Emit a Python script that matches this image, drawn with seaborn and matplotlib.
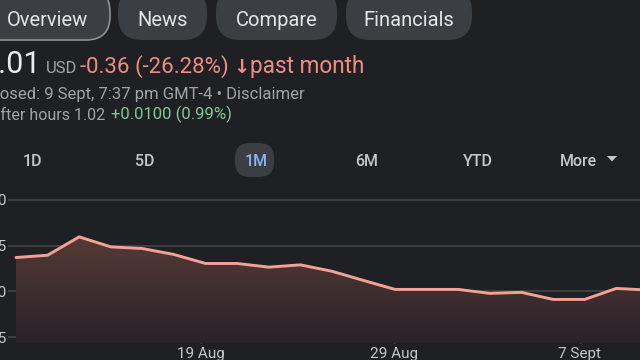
import numpy as np
import matplotlib.pyplot as plt
import seaborn as sns
from matplotlib.patches import FancyBboxPatch, Polygon
from matplotlib.colors import LinearSegmentedColormap

# closing price per session
session = list(range(21))
price = [1.370, 1.395, 1.595, 1.486, 1.468, 1.403, 1.305, 1.305, 1.265, 1.290,
         1.220, 1.120, 1.022, 1.022, 1.022, 0.979, 0.990, 0.913, 0.913, 1.033, 1.015]

y_ticks = [0.5, 1.0, 1.5, 2.0]
y_labels = ['0.5', '1.0', '1.5', '2.0']
x_tick_pos = [5.85, 11.95, 17.85]
x_tick_labels = ['19 Aug', '29 Aug', '7 Sept']

tabs = ['Overview', 'News', 'Compare', 'Financials']
ranges = ['1D', '5D', '1M', '6M', 'YTD', 'More']

BG = '#1f2023'
GRID = '#44474c'
LINE = '#f4a195'
RED = '#f28b82'
GREEN = '#81c995'
GREY = '#a0a4a9'
LIGHT = '#c4c7cb'
PILL = '#3b3e42'

sns.set_theme(style='dark', rc={'axes.facecolor': BG, 'figure.facecolor': BG})
plt.rcParams['font.family'] = ['Roboto', 'DejaVu Sans']

fig = plt.figure(figsize=(6.4, 3.6), dpi=100, facecolor=BG)

# page layer in pixel coordinates
ui = fig.add_axes([0, 0, 1, 1], zorder=0)
ui.set_xlim(0, 640)
ui.set_ylim(360, 0)
ui.axis('off')


def pill(x0, y0, x1, y1, r, fc, ec='none'):
    ui.add_patch(FancyBboxPatch((x0, y0), x1 - x0, y1 - y0,
                                boxstyle=f'round,pad=0,rounding_size={r}',
                                fc=fc, ec=ec, lw=1.2))


# tabs
tab_box = [(-30, 110), (118, 207), (216, 337), (346, 472)]
for i, (name, (x0, x1)) in enumerate(zip(tabs, tab_box)):
    pill(x0, -12, x1, 40, 24, PILL, ec='#8d9196' if i == 0 else 'none')
    ui.text((x0 + x1) / 2 if i else 48, 20.5, name, color='#e3e5e8',
            fontsize=14.5, ha='center', va='center')

# price header
ui.text(41, 73, '1.01', color='#e8eaed', fontsize=22, ha='right', va='baseline')
ui.text(46, 73, 'USD', color=GREY, fontsize=12, va='baseline')
ui.text(80, 73, '-0.36 (-26.28%)', color=RED, fontsize=16, va='baseline')
ui.text(233, 73, '↓', color=RED, fontsize=14, fontweight='bold', va='baseline',
        family=['DejaVu Sans'])
ui.text(250, 73, 'past month', color=RED, fontsize=16.3, va='baseline')
ui.text(-15, 99.5, 'Closed: 9 Sept, 7:37 pm GMT-4 • Disclaimer', color=GREY,
        fontsize=12, va='baseline')
ui.text(-10, 119.5, 'After hours 1.02', color=GREY, fontsize=11.5, va='baseline')
ui.text(111, 119.5, '+0.0100 (0.99%)', color=GREEN, fontsize=12, va='baseline')

# range selector
pill(235, 143, 274, 177, 15, PILL)
range_x = [33, 145, 256, 367, 478, 578]
for name, x in zip(ranges, range_x):
    ui.text(x, 161, name, color='#8ab4f8' if name == '1M' else LIGHT,
            fontsize=11.5, fontweight='medium', ha='center', va='center')
ui.add_patch(Polygon([(607, 156), (617, 156), (612, 161.5)], closed=True,
                     fc=LIGHT, ec='none'))

# chart
ax = fig.add_axes([8 / 640, 17 / 360, 632 / 640, 153 / 360], zorder=1)
ax.set_facecolor('none')
y_min, y_max = 0.438, 2.106

# gradient area under the line
verts = [(session[0], y_min)] + list(zip(session, price)) + [(session[-1], y_min)]
area = Polygon(verts, closed=True, fc='none', ec='none', transform=ax.transData)
ax.add_patch(area)
fade = LinearSegmentedColormap.from_list('fade', ['#29232a', '#553a35'])
grad = np.linspace(1, 0, 256).reshape(-1, 1)
im = ax.imshow(grad, extent=[session[0], session[-1], y_min, max(price)],
               aspect='auto', cmap=fade, origin='upper', zorder=1)
im.set_clip_path(area)

sns.lineplot(x=session, y=price, ax=ax, color=LINE, linewidth=2.1, zorder=3)

ax.set_xlim(-0.253, 19.75)
ax.set_ylim(y_min, y_max)
ax.set_yticks(y_ticks, y_labels)
ax.set_xticks(x_tick_pos, x_tick_labels)
ax.grid(axis='y', color=GRID, linewidth=1.1, zorder=0)
ax.grid(axis='x', visible=False)
ax.set_axisbelow(True)
ax.tick_params(axis='y', length=0, pad=1, labelsize=11, labelcolor=LIGHT)
ax.tick_params(axis='x', bottom=True, direction='in', length=4.5, width=1,
               color='#5f6368', pad=3, labelsize=11, labelcolor=LIGHT)
ax.set_xlabel('')
ax.set_ylabel('')
for s in ax.spines.values():
    s.set_visible(False)

fig.savefig('out.png', dpi=100, facecolor=BG)
